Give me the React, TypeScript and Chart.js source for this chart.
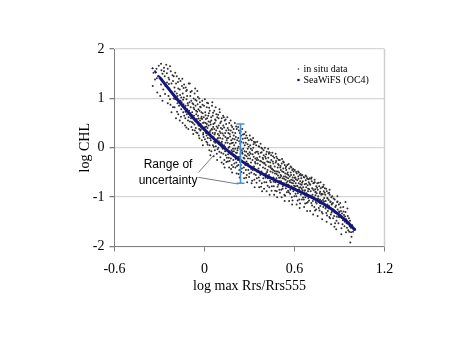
import React, { useEffect, useRef } from "react";
import { Chart, registerables } from "chart.js";

Chart.register(...registerables);

// ---- axis ticks ----
const xTickValues = [-0.6, 0, 0.6, 1.2];
const xTickLabels = ["-0.6", "0", "0.6", "1.2"];
const yTickValues = [-2, -1, 0, 1, 2];
const yTickLabels = ["-2", "-1", "0", "1", "2"];

// ---- series names ----
const seriesNames = ["in situ data", "SeaWiFS (OC4)"];

// ---- SeaWiFS OC4 curve (log max Rrs/Rrs555 -> log CHL) ----
const oc4X = [-0.35, -0.3, -0.25, -0.2, -0.15, -0.1, -0.05, 0, 0.05, 0.1, 0.15, 0.2, 0.25, 0.3, 0.35, 0.4, 0.45, 0.5, 0.55, 0.6, 0.65, 0.7, 0.75, 0.8, 0.85, 0.9, 0.95, 1.0];
const oc4Y = [1.625, 1.43, 1.237, 1.049, 0.867, 0.691, 0.524, 0.366, 0.218, 0.079, -0.049, -0.168, -0.276, -0.375, -0.466, -0.55, -0.627, -0.7, -0.769, -0.838, -0.907, -0.98, -1.06, -1.148, -1.248, -1.363, -1.497, -1.654];

// ---- in situ data points [log ratio, log CHL], estimated from the scatter ----
const inSituPoints: [number, number][] = [
  [-0.34,1.52],[-0.33,1.38],[-0.32,1.6],[-0.31,1.45],[-0.345,1.25],[-0.305,1.66],[-0.315,1.12],[-0.33,1.55],
  [-0.29,1.7],[-0.28,1.5],[-0.27,1.62],[-0.26,1.25],[-0.295,1.05],[-0.285,1.38],[-0.275,1.18],[-0.265,1.45],[-0.255,1.68],[-0.25,1.32],[-0.28,0.95],[-0.27,1.55],[-0.29,1.28],
  [-0.245,1.6],[-0.24,1.42],[-0.235,1.2],[-0.23,0.98],[-0.225,1.55],[-0.22,1.3],[-0.215,1.1],[-0.21,0.82],[-0.205,1.45],[-0.2,1.22],[-0.24,1.05],[-0.23,1.65],[-0.22,0.72],[-0.21,1.35],[-0.245,0.9],[-0.205,1.0],[-0.235,1.38],
  [-0.195,1.52],[-0.19,1.3],[-0.185,1.1],[-0.18,0.9],[-0.175,0.68],[-0.17,1.4],[-0.165,1.18],[-0.16,0.95],[-0.155,0.78],[-0.15,1.25],[-0.19,0.6],[-0.18,1.05],[-0.17,0.85],[-0.16,1.35],[-0.155,1.02],[-0.185,1.45],[-0.175,1.2],[-0.165,0.55],[-0.195,0.98],[-0.152,0.92],[-0.2,0.82],
  [-0.148,1.4],[-0.145,1.1],[-0.14,0.88],[-0.135,0.65],[-0.13,0.45],[-0.125,1.22],[-0.12,0.98],[-0.115,0.78],[-0.11,0.55],[-0.105,1.3],[-0.1,0.92],[-0.142,0.72],[-0.138,1.02],[-0.132,0.82],[-0.128,0.6],[-0.122,1.15],[-0.118,0.68],[-0.112,0.9],[-0.108,0.38],[-0.102,0.75],[-0.146,0.5],[-0.136,1.28],[-0.126,0.85],[-0.116,1.05],[-0.106,0.62],
  [-0.098,1.3],[-0.095,1.05],[-0.092,0.82],[-0.09,0.6],[-0.087,0.42],[-0.085,1.15],[-0.082,0.72],[-0.08,0.9],[-0.077,0.5],[-0.075,0.28],[-0.072,1.0],[-0.07,0.65],[-0.068,0.78],[-0.065,0.55],[-0.062,1.2],[-0.06,0.85],[-0.058,0.4],[-0.055,0.68],[-0.053,0.95],[-0.051,0.58],[-0.094,0.7],[-0.084,0.52],[-0.074,0.88],[-0.064,0.35],[-0.056,0.75],[-0.088,0.95],[-0.078,0.62],[-0.066,1.1],
  [-0.048,1.15],[-0.046,0.88],[-0.043,0.65],[-0.04,0.45],[-0.038,0.25],[-0.035,1.0],[-0.033,0.75],[-0.03,0.55],[-0.028,0.35],[-0.025,0.82],[-0.022,0.6],[-0.02,0.42],[-0.018,0.15],[-0.015,0.95],[-0.012,0.7],[-0.01,0.5],[-0.008,0.3],[-0.005,0.62],[-0.003,0.85],[-0.001,0.4],[-0.045,0.52],[-0.036,0.38],[-0.026,0.48],[-0.016,0.58],[-0.006,0.22],[-0.041,0.78],[-0.031,0.92],[-0.021,0.72],[-0.011,0.05],[-0.047,0.3],
  [0.002,0.98],[0.005,0.72],[0.008,0.5],[0.01,0.3],[0.012,0.12],[0.015,0.82],[0.018,0.6],[0.02,0.4],[0.022,0.2],[0.025,0.65],[0.028,0.45],[0.03,0.28],[0.032,-0.05],[0.035,0.75],[0.038,0.52],[0.04,0.35],[0.042,0.15],[0.045,0.55],[0.048,0.38],[0.05,0.85],[0.004,0.42],[0.014,0.25],[0.024,0.9],[0.034,0.05],[0.044,0.62],[0.009,0.58],[0.019,0.1],[0.029,0.7],[0.039,-0.15],[0.049,0.22],[0.016,0.48],[0.036,0.32],
  [0.052,0.92],[0.055,0.65],[0.058,0.42],[0.06,0.22],[0.062,0.02],[0.065,0.75],[0.068,0.5],[0.07,0.3],[0.072,0.1],[0.075,0.55],[0.078,0.35],[0.08,0.15],[0.082,-0.12],[0.085,0.62],[0.088,0.4],[0.09,0.2],[0.092,0.0],[0.095,0.45],[0.098,0.25],[0.1,0.78],[0.054,0.3],[0.064,0.12],[0.074,0.82],[0.084,-0.25],[0.094,0.6],[0.059,0.48],[0.069,-0.05],[0.079,0.68],[0.089,0.28],[0.099,-0.08],[0.066,0.38],[0.086,0.18],[0.056,0.05],
  [0.102,0.72],[0.105,0.5],[0.108,0.3],[0.11,0.1],[0.112,-0.1],[0.115,0.6],[0.118,0.38],[0.12,0.18],[0.122,-0.02],[0.125,0.45],[0.128,0.25],[0.13,0.05],[0.132,-0.25],[0.135,0.55],[0.138,0.3],[0.14,0.1],[0.142,-0.15],[0.145,0.35],[0.148,0.15],[0.15,-0.05],[0.104,0.2],[0.114,-0.3],[0.124,0.65],[0.134,-0.4],[0.144,0.48],[0.109,0.4],[0.119,0.0],[0.129,0.62],[0.139,0.22],[0.149,-0.2],[0.116,0.12],[0.136,0.02],[0.126,-0.12],
  [0.152,0.62],[0.155,0.4],[0.158,0.2],[0.16,0.0],[0.162,-0.2],[0.165,0.5],[0.168,0.28],[0.17,0.08],[0.172,-0.12],[0.175,0.35],[0.178,0.15],[0.18,-0.05],[0.182,-0.35],[0.185,0.42],[0.188,0.18],[0.19,-0.02],[0.192,-0.25],[0.195,0.25],[0.198,0.05],[0.2,-0.15],[0.154,0.1],[0.164,-0.4],[0.174,0.55],[0.184,-0.5],[0.194,0.38],[0.159,0.3],[0.169,-0.1],[0.179,0.45],[0.189,0.1],[0.199,-0.32],[0.166,0.02],[0.186,-0.08],[0.176,-0.22],[0.156,-0.28],
  [0.202,0.5],[0.205,0.3],[0.208,0.1],[0.21,-0.1],[0.212,-0.3],[0.215,0.38],[0.218,0.15],[0.22,-0.05],[0.222,-0.25],[0.225,0.2],[0.228,0.02],[0.23,-0.18],[0.232,-0.45],[0.235,0.3],[0.238,0.08],[0.24,-0.12],[0.242,-0.35],[0.245,0.12],[0.248,-0.05],[0.25,-0.28],[0.204,-0.02],[0.214,-0.52],[0.224,0.42],[0.234,-0.6],[0.244,0.25],[0.209,0.22],[0.219,-0.2],[0.229,0.35],[0.239,-0.02],[0.249,-0.42],[0.216,-0.1],[0.236,-0.22],[0.226,-0.35],[0.206,-0.4],
  [0.252,0.38],[0.255,0.18],[0.258,-0.02],[0.26,-0.2],[0.262,-0.4],[0.265,0.28],[0.268,0.05],[0.27,-0.15],[0.272,-0.35],[0.275,0.1],[0.278,-0.08],[0.28,-0.28],[0.282,-0.55],[0.285,0.2],[0.288,-0.02],[0.29,-0.22],[0.292,-0.45],[0.295,0.02],[0.298,-0.15],[0.3,-0.38],[0.254,-0.12],[0.264,-0.62],[0.274,0.32],[0.284,-0.7],[0.294,0.15],[0.259,0.1],[0.269,-0.3],[0.279,0.25],[0.289,-0.12],[0.299,-0.52],[0.266,-0.22],[0.286,-0.32],[0.276,-0.45],
  [0.302,0.25],[0.305,0.05],[0.308,-0.12],[0.31,-0.3],[0.312,-0.5],[0.315,0.15],[0.318,-0.05],[0.32,-0.25],[0.322,-0.45],[0.325,0.0],[0.328,-0.18],[0.33,-0.38],[0.332,-0.65],[0.335,0.1],[0.338,-0.1],[0.34,-0.32],[0.342,-0.55],[0.345,-0.08],[0.348,-0.25],[0.35,-0.48],[0.304,-0.22],[0.314,-0.72],[0.324,0.2],[0.334,-0.8],[0.344,0.05],[0.309,-0.02],[0.319,-0.4],[0.329,0.12],[0.339,-0.22],[0.349,-0.62],
  [0.352,0.12],[0.355,-0.08],[0.358,-0.25],[0.36,-0.42],[0.362,-0.6],[0.365,0.02],[0.368,-0.18],[0.37,-0.35],[0.372,-0.55],[0.375,-0.1],[0.378,-0.28],[0.38,-0.48],[0.382,-0.72],[0.385,-0.02],[0.388,-0.2],[0.39,-0.4],[0.392,-0.62],[0.395,-0.15],[0.398,-0.32],[0.4,-0.55],[0.354,-0.32],[0.364,-0.8],[0.374,0.08],[0.384,-0.88],[0.394,-0.05],[0.359,-0.12],[0.369,-0.5],[0.379,0.0],[0.389,-0.3],[0.399,-0.7],
  [0.402,0.0],[0.405,-0.18],[0.408,-0.35],[0.41,-0.52],[0.412,-0.7],[0.415,-0.08],[0.418,-0.28],[0.42,-0.45],[0.422,-0.62],[0.425,-0.2],[0.428,-0.38],[0.43,-0.55],[0.432,-0.8],[0.435,-0.1],[0.438,-0.3],[0.44,-0.48],[0.442,-0.7],[0.445,-0.25],[0.448,-0.42],[0.45,-0.62],[0.404,-0.42],[0.414,-0.88],[0.424,-0.02],[0.434,-0.95],[0.444,-0.15],[0.409,-0.22],[0.419,-0.58],[0.429,-0.12],[0.439,-0.4],[0.449,-0.78],
  [0.452,-0.1],[0.455,-0.28],[0.458,-0.45],[0.46,-0.6],[0.462,-0.78],[0.465,-0.2],[0.468,-0.38],[0.47,-0.52],[0.472,-0.7],[0.475,-0.3],[0.478,-0.48],[0.48,-0.62],[0.482,-0.88],[0.485,-0.22],[0.488,-0.4],[0.49,-0.56],[0.492,-0.75],[0.495,-0.35],[0.498,-0.5],[0.5,-0.68],[0.454,-0.5],[0.464,-0.95],[0.474,-0.12],[0.484,-1.0],[0.494,-0.25],[0.459,-0.32],[0.469,-0.65],[0.479,-0.18],[0.489,-0.48],[0.499,-0.85],
  [0.502,-0.25],[0.505,-0.4],[0.508,-0.55],[0.51,-0.68],[0.512,-0.85],[0.515,-0.32],[0.518,-0.48],[0.52,-0.62],[0.522,-0.78],[0.525,-0.42],[0.528,-0.58],[0.53,-0.72],[0.532,-0.95],[0.535,-0.35],[0.538,-0.52],[0.54,-0.65],[0.542,-0.82],[0.545,-0.45],[0.548,-0.6],[0.55,-0.75],[0.504,-0.6],[0.514,-1.0],[0.524,-0.28],[0.534,-1.08],[0.544,-0.38],[0.509,-0.45],[0.519,-0.72],[0.529,-0.3],[0.539,-0.58],[0.549,-0.9],
  [0.552,-0.35],[0.555,-0.5],[0.558,-0.62],[0.56,-0.75],[0.562,-0.9],[0.565,-0.42],[0.568,-0.58],[0.57,-0.7],[0.572,-0.85],[0.575,-0.5],[0.578,-0.65],[0.58,-0.78],[0.582,-1.0],[0.585,-0.45],[0.588,-0.6],[0.59,-0.72],[0.592,-0.88],[0.595,-0.55],[0.598,-0.68],[0.6,-0.82],[0.554,-0.68],[0.564,-1.08],[0.574,-0.38],[0.584,-1.15],[0.594,-0.48],[0.559,-0.55],[0.569,-0.8],[0.579,-0.4],[0.589,-0.66],[0.599,-0.98],
  [0.602,-0.45],[0.605,-0.6],[0.608,-0.72],[0.61,-0.85],[0.612,-0.98],[0.615,-0.52],[0.618,-0.66],[0.62,-0.78],[0.622,-0.92],[0.625,-0.58],[0.628,-0.72],[0.63,-0.85],[0.632,-1.05],[0.635,-0.55],[0.638,-0.68],[0.64,-0.8],[0.642,-0.95],[0.645,-0.62],[0.648,-0.75],[0.65,-0.9],[0.604,-0.78],[0.614,-1.15],[0.624,-0.48],[0.634,-1.22],[0.644,-0.56],[0.609,-0.64],[0.619,-0.88],[0.629,-0.5],[0.639,-0.74],[0.649,-1.05],
  [0.652,-0.55],[0.655,-0.68],[0.658,-0.8],[0.66,-0.92],[0.662,-1.05],[0.665,-0.6],[0.668,-0.74],[0.67,-0.86],[0.672,-1.0],[0.675,-0.66],[0.678,-0.8],[0.68,-0.92],[0.682,-1.12],[0.685,-0.62],[0.688,-0.76],[0.69,-0.88],[0.692,-1.02],[0.695,-0.7],[0.698,-0.84],[0.7,-0.98],[0.654,-0.86],[0.664,-1.2],[0.674,-0.56],[0.684,-1.28],[0.694,-0.64],[0.669,-0.95],[0.679,-0.58],[0.689,-1.1],
  [0.702,-0.62],[0.705,-0.75],[0.708,-0.88],[0.71,-1.0],[0.712,-1.12],[0.715,-0.68],[0.718,-0.82],[0.72,-0.95],[0.722,-1.08],[0.725,-0.72],[0.728,-0.86],[0.73,-1.0],[0.732,-1.2],[0.735,-0.7],[0.738,-0.84],[0.74,-0.96],[0.742,-1.1],[0.745,-0.78],[0.748,-0.92],[0.75,-1.05],[0.704,-1.28],[0.714,-0.6],[0.724,-1.35],[0.734,-0.65],[0.744,-1.25],[0.719,-1.02],[0.739,-0.9],
  [0.752,-0.72],[0.755,-0.85],[0.758,-0.98],[0.76,-1.1],[0.762,-1.22],[0.765,-0.78],[0.768,-0.92],[0.77,-1.05],[0.772,-1.18],[0.775,-0.82],[0.778,-0.95],[0.78,-1.08],[0.782,-1.3],[0.785,-0.8],[0.788,-0.94],[0.79,-1.06],[0.792,-1.2],[0.795,-0.88],[0.798,-1.02],[0.8,-1.15],[0.754,-1.38],[0.774,-0.7],[0.784,-1.45],[0.794,-0.75],[0.769,-1.12],
  [0.802,-0.82],[0.805,-0.95],[0.808,-1.08],[0.81,-1.2],[0.812,-1.32],[0.815,-0.88],[0.818,-1.02],[0.82,-1.15],[0.822,-1.28],[0.825,-0.92],[0.828,-1.06],[0.83,-1.18],[0.832,-1.4],[0.835,-0.95],[0.838,-1.1],[0.84,-1.22],[0.842,-1.35],[0.845,-1.0],[0.848,-1.15],[0.85,-1.28],[0.814,-1.5],[0.834,-0.85],[0.844,-1.55],
  [0.852,-0.98],[0.856,-1.12],[0.86,-1.25],[0.864,-1.38],[0.868,-1.05],[0.872,-1.2],[0.876,-1.32],[0.88,-1.48],[0.884,-1.1],[0.888,-1.25],[0.892,-1.4],[0.896,-1.15],[0.9,-1.3],[0.866,-1.6],[0.886,-0.98],[0.878,-1.65],
  [0.905,-1.12],[0.91,-1.28],[0.915,-1.42],[0.92,-1.55],[0.925,-1.2],[0.93,-1.36],[0.935,-1.5],[0.94,-1.3],[0.945,-1.45],[0.95,-1.62],[0.955,-1.38],[0.96,-1.55],[0.965,-1.7],[0.97,-1.48],[0.975,-1.62],[0.98,-1.8],[0.99,-1.7],[0.972,-1.92],[0.912,-1.75],[0.94,-1.1],
  [-0.318,1.41],[-0.287,1.57],[-0.263,1.09],[-0.251,1.51],[-0.237,1.29],[-0.227,0.87],[-0.213,1.47],[-0.198,1.14],[-0.183,0.73],[-0.177,1.33],[-0.163,1.07],[-0.157,0.63],[-0.143,0.97],[-0.139,1.21],[-0.127,0.73],[-0.121,0.41],[-0.117,1.17],[-0.109,0.86],[-0.097,0.53],[-0.093,1.13],[-0.086,0.67],[-0.079,0.36],[-0.073,0.81],[-0.067,0.47],[-0.061,0.97],[-0.054,0.31],[-0.049,0.73],[-0.044,1.03],[-0.039,0.59],[-0.034,0.19],[-0.029,0.83],[-0.024,0.37],[-0.019,0.63],[-0.013,0.87],[-0.009,0.27],[-0.004,0.51],
  [0.003,0.17],[0.007,0.66],[0.013,0.43],[0.017,0.91],[0.021,0.06],[0.027,0.53],[0.031,0.81],[0.037,0.19],[0.041,0.47],[0.046,-0.07],[0.051,0.37],[0.057,0.71],[0.061,-0.17],[0.067,0.27],[0.071,0.57],[0.076,0.03],[0.081,0.43],[0.087,-0.03],[0.091,0.67],[0.096,0.13],[0.101,0.33],[0.106,-0.19],[0.111,0.53],[0.117,0.07],[0.121,0.29],[0.127,-0.33],[0.131,0.41],[0.137,-0.07],[0.141,0.57],[0.146,-0.29],[0.151,0.19],[0.157,-0.13],[0.161,0.36],[0.167,-0.27],[0.171,0.23],[0.177,-0.43],[0.181,0.09],[0.187,0.31],[0.191,-0.39],[0.196,-0.07],
  [0.201,0.17],[0.207,-0.23],[0.211,0.43],[0.217,-0.37],[0.221,-0.01],[0.227,-0.53],[0.231,0.13],[0.237,-0.29],[0.241,0.33],[0.246,-0.49],[0.251,-0.09],[0.257,0.27],[0.261,-0.51],[0.267,-0.07],[0.271,0.19],[0.277,-0.61],[0.281,-0.17],[0.287,0.07],[0.291,-0.33],[0.297,-0.59],[0.301,-0.09],[0.307,0.17],[0.311,-0.43],[0.317,-0.67],[0.321,-0.13],[0.327,0.07],[0.331,-0.53],[0.337,-0.29],[0.341,0.11],[0.347,-0.71],[0.351,-0.21],[0.357,-0.47],[0.361,0.03],[0.367,-0.67],[0.371,-0.27],[0.377,-0.79],[0.381,-0.09],[0.387,-0.53],[0.391,-0.23],[0.397,-0.83],
  [0.401,-0.31],[0.407,-0.61],[0.411,-0.13],[0.417,-0.49],[0.421,-0.77],[0.427,-0.29],[0.431,-0.09],[0.437,-0.67],[0.441,-0.37],[0.447,-0.87],[0.451,-0.43],[0.457,-0.17],[0.461,-0.69],[0.467,-0.47],[0.471,-0.87],[0.477,-0.27],[0.481,-0.53],[0.487,-0.79],[0.491,-0.33],[0.497,-0.61],[0.503,-0.91],[0.507,-0.37],[0.511,-0.57],[0.517,-0.23],[0.521,-0.83],[0.527,-0.49],[0.531,-0.63],[0.537,-0.97],[0.541,-0.41],[0.547,-0.71],[0.551,-0.53],[0.557,-0.87],[0.561,-0.33],[0.567,-0.67],[0.571,-0.93],[0.577,-0.55],[0.581,-0.71],[0.587,-1.07],[0.591,-0.43],[0.597,-0.77],
  [0.601,-0.61],[0.607,-0.93],[0.611,-0.49],[0.617,-0.77],[0.621,-1.07],[0.627,-0.63],[0.631,-0.81],[0.637,-1.13],[0.641,-0.53],[0.647,-0.83],[0.651,-0.71],[0.657,-1.01],[0.661,-0.59],[0.667,-0.87],[0.671,-1.13],[0.677,-0.73],[0.681,-0.97],[0.687,-0.63],[0.691,-0.83],[0.697,-1.07],[0.701,-0.73],[0.707,-0.97],[0.711,-0.63],[0.717,-1.17],[0.721,-0.83],[0.727,-1.03],[0.731,-0.71],[0.737,-1.27],[0.741,-0.89],[0.747,-1.13],[0.751,-0.81],[0.757,-1.03],[0.761,-0.71],[0.767,-1.27],[0.771,-0.89],[0.777,-1.13],[0.781,-0.93],[0.787,-1.33],[0.791,-0.79],[0.797,-1.09],
  [0.801,-0.91],[0.807,-1.23],[0.811,-0.83],[0.817,-1.37],[0.821,-1.03],[0.827,-1.23],[0.831,-0.91],[0.837,-1.43],[0.841,-1.09],[0.847,-1.31],[0.851,-1.13],[0.857,-1.43],[0.861,-1.03],[0.867,-1.31],[0.871,-1.53],[0.877,-1.17],[0.881,-1.39],[0.887,-1.09],[0.893,-1.53],[0.897,-1.29],[0.903,-1.41],[0.907,-1.21],[0.913,-1.63],[0.917,-1.33],[0.923,-1.47],[0.927,-1.29],[0.933,-1.59],[0.937,-1.39],[0.943,-1.71],[0.947,-1.53],[0.953,-1.23],[0.958,-1.67],[0.963,-1.43],[0.968,-1.59],[0.977,-1.71],[0.985,-1.57],
];

// ---- annotation (data units) ----
const annotationLines = ["Range of", "uncertainty"];
const annotationAnchor = { x: -0.243, y: -0.35 };
const bracket = { x: 0.24, top: 0.48, bottom: -0.72 };
const pointerUpper = [{ x: -0.04, y: -0.5 }, { x: 0.065, y: -0.14 }];
const pointerLower = [{ x: -0.04, y: -0.6 }, { x: 0.225, y: -0.735 }];

const SERIF = "'Liberation Serif', 'DejaVu Serif', serif";
const SANS = "'Liberation Sans', Arial, sans-serif";
const CURVE_COLOR = "#14147e";
const DOT_COLOR = "#303030";

const overlayPlugin = {
  id: "overlay",
  beforeDatasetsDraw(chart: any) {
    const { ctx, chartArea } = chart;
    ctx.save();
    ctx.strokeStyle = "#cfcfcf";
    ctx.lineWidth = 1.5;
    ctx.beginPath();
    ctx.moveTo(chartArea.right, chartArea.top);
    ctx.lineTo(chartArea.right, chartArea.bottom);
    ctx.stroke();
    ctx.restore();
  },
  afterDatasetsDraw(chart: any) {
    const { ctx, scales } = chart;
    const xs = scales.x;
    const ys = scales.y;
    const px = (v: number) => xs.getPixelForValue(v);
    const py = (v: number) => ys.getPixelForValue(v);
    ctx.save();
    // pointer lines
    ctx.strokeStyle = "#7a7a7a";
    ctx.lineWidth = 1;
    for (const seg of [pointerUpper, pointerLower]) {
      ctx.beginPath();
      ctx.moveTo(px(seg[0].x), py(seg[0].y));
      ctx.lineTo(px(seg[1].x), py(seg[1].y));
      ctx.stroke();
    }
    // bracket
    ctx.strokeStyle = "#4a8fd6";
    ctx.lineWidth = 1.6;
    const bx = px(bracket.x);
    const bt = py(bracket.top);
    const bb = py(bracket.bottom);
    ctx.beginPath();
    ctx.moveTo(bx, bt);
    ctx.lineTo(bx, bb);
    ctx.moveTo(bx - 4, bt);
    ctx.lineTo(bx + 4, bt);
    ctx.moveTo(bx - 4, bb);
    ctx.lineTo(bx + 4, bb);
    ctx.stroke();
    // annotation text
    ctx.fillStyle = "#000";
    ctx.font = "12px " + SANS;
    ctx.textAlign = "center";
    ctx.textBaseline = "middle";
    const ax = px(annotationAnchor.x);
    const ay = py(annotationAnchor.y);
    annotationLines.forEach((t, i) => ctx.fillText(t, ax, ay + i * 16));
    // legend
    const lx = chart.chartArea.right - 86;
    const ly = chart.chartArea.top + 20;
    ctx.font = "10px " + SERIF;
    ctx.textAlign = "left";
    ctx.fillStyle = DOT_COLOR;
    ctx.beginPath();
    ctx.arc(lx, ly, 0.8, 0, Math.PI * 2);
    ctx.fill();
    ctx.fillStyle = CURVE_COLOR;
    ctx.beginPath();
    ctx.arc(lx, ly + 11, 1.3, 0, Math.PI * 2);
    ctx.fill();
    ctx.fillStyle = "#000";
    ctx.fillText(seriesNames[0], lx + 5, ly);
    ctx.fillText(seriesNames[1], lx + 5, ly + 11);
    ctx.restore();
  },
};

export default function App() {
  const canvasRef = useRef<HTMLCanvasElement | null>(null);

  useEffect(() => {
    document.body.style.margin = "0";
    const canvas = canvasRef.current;
    if (!canvas) return;
    const chart = new Chart(canvas, {
      type: "scatter",
      data: {
        datasets: [
          {
            label: seriesNames[1],
            data: oc4X.map((x, i) => ({ x, y: oc4Y[i] })),
            showLine: true,
            borderColor: CURVE_COLOR,
            backgroundColor: CURVE_COLOR,
            borderWidth: 3,
            pointRadius: (c: any) => (c.dataIndex === oc4X.length - 1 ? 1.6 : 0),
            pointBorderWidth: 0,
            tension: 0.2,
            order: 0,
            segment: {
              borderDash: (c: any) => (c.p0DataIndex === 0 ? [2, 3] : undefined),
              borderWidth: (c: any) => (c.p0DataIndex === 0 ? 2 : 3),
            },
          } as any,
          {
            label: seriesNames[0],
            data: inSituPoints.map(([x, y]) => ({ x, y })),
            backgroundColor: DOT_COLOR,
            borderWidth: 0,
            pointRadius: 1,
            order: 1,
          },
        ],
      },
      options: {
        animation: false,
        responsive: false,
        devicePixelRatio: 1,
        layout: { padding: { top: 49, right: 89.5, left: 0, bottom: 0 } },
        plugins: {
          legend: { display: false },
          tooltip: { enabled: false },
        },
        scales: {
          x: {
            type: "linear",
            min: -0.6,
            max: 1.2,
            afterFit: (s: any) => {
              s.height = 108.5;
            },
            afterBuildTicks: (s: any) => {
              s.ticks = xTickValues.map((v) => ({ value: v }));
            },
            ticks: {
              callback: (_v: any, i: number) => xTickLabels[i],
              font: { family: SERIF, size: 14 },
              color: "#000",
              padding: 9,
              maxRotation: 0,
              autoSkip: false,
            },
            grid: {
              drawOnChartArea: false,
              drawTicks: true,
              tickLength: 5,
              tickColor: "#7f7f7f",
              color: "#7f7f7f",
            },
            border: { display: true, color: "#7f7f7f", width: 1 },
            title: {
              display: true,
              text: "log max Rrs/Rrs555",
              font: { family: SERIF, size: 14 },
              color: "#000",
              padding: { top: 0, bottom: 60 },
            },
          },
          y: {
            type: "linear",
            min: -2,
            max: 2,
            afterFit: (s: any) => {
              s.width = 114.5;
            },
            afterBuildTicks: (s: any) => {
              s.ticks = yTickValues.map((v) => ({ value: v }));
            },
            ticks: {
              callback: (_v: any, i: number) => yTickLabels[i],
              font: { family: SERIF, size: 14 },
              color: "#000",
              padding: 5,
              autoSkip: false,
            },
            grid: {
              drawOnChartArea: true,
              color: "#d6d6d6",
              lineWidth: 1.3,
              drawTicks: true,
              tickLength: 5,
              tickColor: "#7f7f7f",
            },
            border: { display: true, color: "#7f7f7f", width: 1 },
            title: {
              display: true,
              text: "log CHL",
              font: { family: SERIF, size: 14 },
              color: "#000",
              padding: { top: 77, bottom: 0 },
            },
          },
        },
      },
      plugins: [overlayPlugin],
    } as any);
    return () => chart.destroy();
  }, []);

  return (
    <div style={{ position: "absolute", left: 0, top: 0, width: 474, height: 355, background: "#fff" }}>
      <canvas ref={canvasRef} width={474} height={355} style={{ width: 474, height: 355, display: "block" }} />
    </div>
  );
}
